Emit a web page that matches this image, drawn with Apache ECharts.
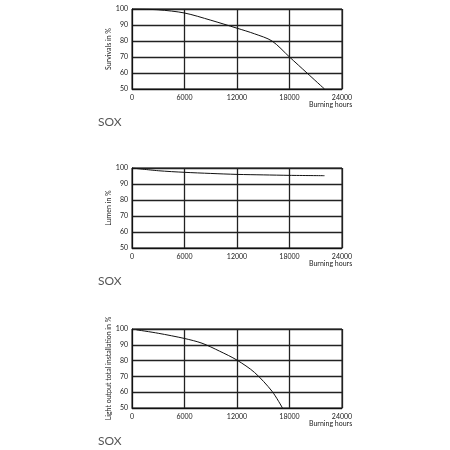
<!DOCTYPE html>
<html>
<head>
<meta charset="utf-8">
<script src="https://cdn.jsdelivr.net/npm/echarts@6/dist/echarts.min.js"></script>
<style>
  html, body { margin: 0; padding: 0; background: #fff; }
  #chart { width: 450px; height: 450px; }
</style>
</head>
<body>
<div id="chart"></div>
<script>
// burning hours vs percentage
const survivals = [[0, 100], [3000, 99.5], [6000, 97.5], [9000, 93], [12000, 88], [14000, 84.5], [16000, 80], [18000, 70], [20000, 60], [22000, 50]]
const lumen = [[0, 100], [3000, 98.3], [6000, 97.3], [9000, 96.6], [12000, 96], [15000, 95.7], [18000, 95.4], [22000, 95.2]]
const lightOutput = [[500, 99.5], [3000, 97.3], [6000, 94], [8000, 91], [10000, 86], [12000, 80.3], [14000, 72.5], [16000, 60.6], [17200, 50]]

const xTicks = [0, 6000, 12000, 18000, 24000]
const yNames = ['Survivals in %', 'Lumen in %', 'Light output total installation in %']
const lampType = 'SOX'

const font = 'Lato'
const grids = [
  { left: 132, top: 9, width: 210, height: 80 },
  { left: 132, top: 168, width: 210, height: 80 },
  { left: 132, top: 329, width: 210, height: 79 }
]
const sets = [survivals, lumen, lightOutput]

const chart = echarts.init(document.getElementById('chart'))
chart.setOption({
  animation: false,
  textStyle: { fontFamily: font },
  grid: grids,
  xAxis: grids.map((g, i) => ({
    gridIndex: i,
    type: 'value',
    min: xTicks[0],
    max: xTicks[xTicks.length - 1],
    interval: 6000,
    axisLine: { lineStyle: { color: '#111', width: 1 } },
    axisTick: { show: false },
    axisLabel: { color: '#222', fontSize: 7, margin: 5, formatter: v => String(v) },
    splitLine: { show: true, lineStyle: { color: '#222', width: 1.3 } }
  })),
  yAxis: grids.map((g, i) => ({
    gridIndex: i,
    type: 'value',
    min: 50,
    max: 100,
    interval: 10,
    name: yNames[i],
    nameLocation: 'middle',
    nameGap: 19,
    nameTextStyle: { color: '#222', fontSize: 7 },
    axisLine: { show: true, lineStyle: { color: '#111', width: 1 } },
    axisTick: { show: false },
    axisLabel: { color: '#222', fontSize: 7, margin: 4 },
    splitLine: { show: true, lineStyle: { color: '#222', width: 1.3 } }
  })),
  graphic: grids.flatMap(g => [
    {
      type: 'rect',
      shape: { x: g.left, y: g.top, width: g.width, height: g.height },
      style: { fill: 'none', stroke: '#111', lineWidth: 1 }
    },
    {
      type: 'text',
      left: 309,
      top: g.top + g.height + 12,
      style: { text: 'Burning hours', fontSize: 7, fill: '#222', fontFamily: font }
    },
    {
      type: 'text',
      left: 98,
      top: g.top + g.height + 27,
      style: { text: lampType, fontSize: 12, fill: '#555', fontFamily: font }
    }
  ]),
  series: sets.map((d, i) => ({
    type: 'line',
    xAxisIndex: i,
    yAxisIndex: i,
    data: d,
    smooth: 0.3,
    showSymbol: false,
    lineStyle: { color: '#111', width: 1 }
  }))
})
</script>
</body>
</html>
